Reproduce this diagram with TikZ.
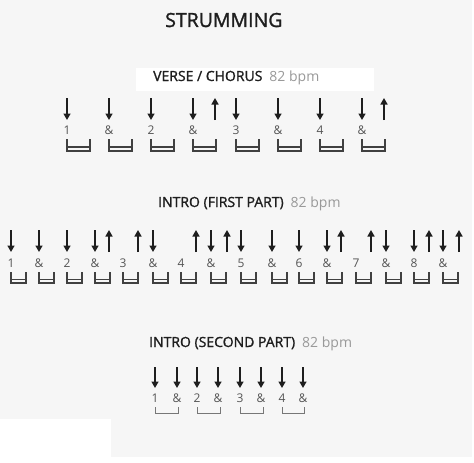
\documentclass[tikz,border=0pt]{standalone}
\usepackage{fontspec}
\setmainfont{Open Sans}
\newfontfamily\headfont[FakeBold=1.4]{Open Sans}
\usepackage{xcolor}
\usetikzlibrary{arrows.meta}

\definecolor{bggray}{HTML}{F6F6F6}
\definecolor{inkdark}{HTML}{1E1E1E}
\definecolor{countgray}{HTML}{555555}
\definecolor{bpmgray}{HTML}{999999}

\begin{document}
\begin{tikzpicture}[x=1pt, y=-1pt,
    stroke/.style={line width=1.5pt, inkdark, -{Triangle[width=7pt,length=6.5pt]}},
    count/.style={font=\fontsize{12}{12}\selectfont, text=countgray, inner sep=0pt},
    head/.style={anchor=base west, inner sep=0pt, text=inkdark, font=\fontsize{14}{14}\selectfont\headfont},
    beam/.style={line width=1.2pt, inkdark!85}
  ]
    \useasboundingbox (0,0) rectangle (474,463);

    % Background
    \fill[bggray] (0,0) rectangle (472,457);
    \fill[white] (0,419) rectangle (111,457);
    \fill[white] (136,68) rectangle (374,91);

    % Title
    \node[anchor=base west, inner sep=0pt, text=inkdark,
          font=\fontsize{19.5}{20}\selectfont\headfont] (title) at (165,27) {STRUMMING};

    % Verse / chorus
    \node[head] (verse) at (153,81) {VERSE / CHORUS\hspace{7pt}{\fontspec{Open Sans}\color{bpmgray}82 bpm}};
    \foreach \x in {67,109,151,193,236,278,320,362}
        \draw[stroke] (\x,98) -- (\x,120);
    \foreach \x in {215,384}
        \draw[stroke] (\x,120) -- (\x,98);
    \foreach \x/\t [count=\i] in {67/1,109/\&,151/2,193/\&,236/3,278/\&,320/4,362/\&} {
        \node[count] (v\i) at (\x,130) {\t};
        \draw[beam] (\x,139) -- (\x,151) -- (\x+23,151) -- (\x+23,139);
        \draw[beam] (\x,147) -- (\x+23,147);
    }

    % Intro, first part
    \node[head] (introa) at (158,207) {INTRO (FIRST PART)\hspace{7pt}{\fontspec{Open Sans}\color{bpmgray}82 bpm}};
    \foreach \x in {11,39,67,95,153,211,241,272,299,327,386,414,443}
        \draw[stroke] (\x,230) -- (\x,252);
    \foreach \x in {109,138,196,227,341,371,429,459}
        \draw[stroke] (\x,252) -- (\x,230);
    \foreach \x/\t [count=\i] in {11/1,39/\&,67/2,95/\&,123/3,153/\&,181/4,211/\&,
                                  241/5,272/\&,299/6,327/\&,356/7,386/\&,414/8,443/\&} {
        \node[count] (a\i) at (\x,263) {\t};
        \draw[beam] (\x,272) -- (\x,283) -- (\x+15,283) -- (\x+15,272);
        \draw[beam] (\x,279.5) -- (\x+15,279.5);
    }

    % Intro, second part
    \node[head] (introb) at (149,347) {INTRO (SECOND PART)\hspace{7pt}{\fontspec{Open Sans}\color{bpmgray}82 bpm}};
    \foreach \x/\t [count=\i] in {155/1,177/\&,197/2,218/\&,240/3,261/\&,282/4,303/\&} {
        \draw[stroke] (\x,367) -- (\x,388);
        \node[count] (b\i) at (\x,398) {\t};
    }
    \foreach \x/\w in {155/23,197/23,240/23,282/22}
        \draw[line width=1pt, countgray!80] (\x,407) -- (\x,413) -- (\x+\w,413) -- (\x+\w,407);
\end{tikzpicture}
\end{document}
